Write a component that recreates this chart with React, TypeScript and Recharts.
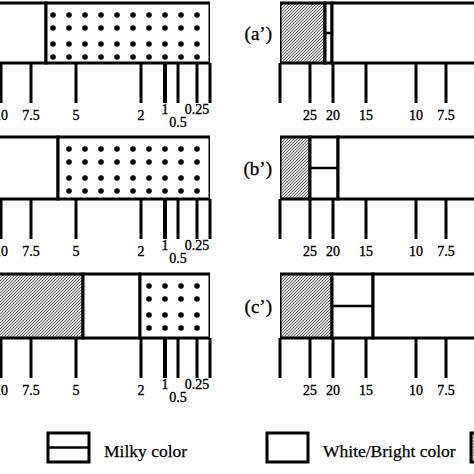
import { BarChart, Bar, XAxis, YAxis } from "recharts";

const SERIF = '"Liberation Serif", "DejaVu Serif", serif';

// sieve openings as they sit along the two drawn scales (scale units, 0 = left end of a bar)
const leftTickLabels = ["10", "7.5", "5", "2", "1", "0.5", "0.25", ""];
const leftTickAt = [15.5, 30.5, 53, 85.5, 97.5, 104, 113.5, 120];
const rightTickLabels = ["", "25", "20", "15", "10", "7.5"];
const rightTickAt = [0, 15, 26.5, 43, 68, 83];

// each panel: the fill of every segment and where that segment ends on the scale
const panelA = { label: "(a)", kinds: ["white", "dotted"], ends: [38, 120] };
const panelB = { label: "(b)", kinds: ["white", "dotted"], ends: [44, 120] };
const panelC = { label: "(c)", kinds: ["hatched", "white", "dotted"], ends: [56.5, 85, 120] };
const panelA2 = { label: "(a’)", kinds: ["hatched", "milky", "white"], ends: [22.5, 26, 120] };
const panelB2 = { label: "(b’)", kinds: ["hatched", "milky", "white"], ends: [15, 29, 120] };
const panelC2 = { label: "(c’)", kinds: ["hatched", "milky", "white"], ends: [26, 46.5, 120] };

const legendKinds = ["milky", "white", "hatched"];
const legendLabels = ["Milky color", "White/Bright color", ""];

// layout
const ROW_TOP = [3, 137, 274];
const BAR_H = [60, 62, 64];
const MT = 4;
const AXIS_H = 70;

type Panel = { label: string; kinds: string[]; ends: number[] };

function fillFor(kind: string, uid: string) {
  if (kind === "dotted") return `url(#dots-${uid})`;
  if (kind === "hatched") return `url(#hatch-${uid})`;
  return "#fff";
}

function HatchPattern({ id }: { id: string }) {
  return (
    <pattern id={id} patternUnits="userSpaceOnUse" width={3} height={3}>
      <rect width={3} height={3} fill="#d8d8d8" />
      <path d="M0,3 L3,0 M-1,1 L1,-1 M2,4 L4,2" stroke="#5a5a5a" strokeWidth={0.8} />
    </pattern>
  );
}

function Segment(props: any) {
  const { x, y, width, height, fill, kind } = props;
  if (!width || width <= 0) return null;
  return (
    <g>
      <rect x={x} y={y} width={width} height={height} fill={fill} stroke="#000" strokeWidth={3} />
      {kind === "milky" && (
        <line x1={x} x2={x + width} y1={y + height / 2} y2={y + height / 2} stroke="#000" strokeWidth={2.5} />
      )}
    </g>
  );
}

function Tick(props: any) {
  const { x, y, payload, ticks, labels } = props;
  const label = labels[ticks.indexOf(payload.value)] ?? "";
  let dy = 52;
  if (label === "1" || label === "0.25") dy = 46;
  if (label === "0.5") dy = 59;
  return (
    <g>
      <line x1={x} x2={x} y1={y} y2={y + 40} stroke="#000" strokeWidth={label === "1" ? 4 : 3} />
      <text
        x={x}
        y={y + dy}
        textAnchor="middle"
        dominantBaseline="central"
        fontSize={14}
        fontFamily={SERIF}
        fill="#000"
        stroke="#000"
        strokeWidth={0.35}
      >
        {label}
      </text>
    </g>
  );
}

function PanelChart({
  panel, ticks, labels, left, row, uid, showName,
}: {
  panel: Panel; ticks: number[]; labels: string[]; left: number; row: number; uid: string; showName: boolean;
}) {
  const barH = BAR_H[row];
  const datum: Record<string, any> = { name: panel.label };
  panel.ends.forEach((e, i) => {
    datum["s" + i] = e - (i ? panel.ends[i - 1] : 0);
  });
  const dotX = (((5 - left - 8) % 16) + 16) % 16;
  return (
    <div style={{ position: "absolute", left, top: ROW_TOP[row] - MT }}>
      <BarChart
        width={290}
        height={MT + barH + AXIS_H}
        data={[datum]}
        layout="vertical"
        margin={{ top: MT, right: 10, bottom: 0, left: 0 }}
        barCategoryGap={0}
      >
        <defs>
          <pattern id={`dots-${uid}`} patternUnits="userSpaceOnUse" x={dotX} y={MT + 9} width={16} height={29}>
            <rect width={16} height={29} fill="#fff" />
            <circle cx={8} cy={3} r={2.8} fill="#000" />
            <circle cx={8} cy={16} r={2.8} fill="#000" />
          </pattern>
          <HatchPattern id={`hatch-${uid}`} />
        </defs>
        <XAxis
          type="number"
          domain={[0, 120]}
          ticks={ticks}
          interval={0}
          allowDataOverflow
          axisLine={false}
          tickLine={false}
          tickSize={0}
          tickMargin={0}
          height={AXIS_H}
          tick={(p: any) => <Tick {...p} ticks={ticks} labels={labels} />}
        />
        <YAxis
          type="category"
          dataKey="name"
          width={40}
          axisLine={false}
          tickLine={false}
          tick={
            showName
              ? { fill: "#000", fontSize: 19, fontFamily: SERIF, stroke: "#000", strokeWidth: 0.3 }
              : false
          }
        />
        {panel.kinds.map((k, i) => (
          <Bar
            key={i}
            dataKey={"s" + i}
            stackId="s"
            fill={fillFor(k, uid)}
            isAnimationActive={false}
            shape={(p: any) => <Segment {...p} kind={k} />}
          />
        ))}
      </BarChart>
    </div>
  );
}

function LegendStrip() {
  const boxX = [48, 267, 471];
  return (
    <svg style={{ position: "absolute", left: 0, top: 425 }} width={474} height={49}>
      <defs>
        <HatchPattern id="hatch-legend" />
      </defs>
      {legendKinds.map((k, i) => (
        <g key={k}>
          <rect x={boxX[i]} y={8} width={41} height={29} fill={fillFor(k, "legend")} stroke="#000" strokeWidth={3} />
          {k === "milky" && <line x1={boxX[i]} x2={boxX[i] + 41} y1={22.5} y2={22.5} stroke="#000" strokeWidth={2.5} />}
          <text
            x={boxX[i] + 56}
            y={26}
            dominantBaseline="central"
            fontSize={17.5}
            fontFamily={SERIF}
            fill="#000"
            stroke="#000"
            strokeWidth={0.25}
          >
            {legendLabels[i]}
          </text>
        </g>
      ))}
    </svg>
  );
}

export default function App() {
  const leftPanels = [panelA, panelB, panelC];
  const rightPanels = [panelA2, panelB2, panelC2];
  return (
    <div
      style={{
        position: "fixed", left: 0, top: 0, width: 474, height: 474,
        overflow: "hidden", background: "#fff",
      }}
    >
      {leftPanels.map((p, i) => (
        <PanelChart key={p.label} panel={p} ticks={leftTickAt} labels={leftTickLabels} left={-70} row={i} uid={"l" + i} showName={false} />
      ))}
      {rightPanels.map((p, i) => (
        <PanelChart key={p.label} panel={p} ticks={rightTickAt} labels={rightTickLabels} left={240} row={i} uid={"r" + i} showName />
      ))}
      <LegendStrip />
    </div>
  );
}
